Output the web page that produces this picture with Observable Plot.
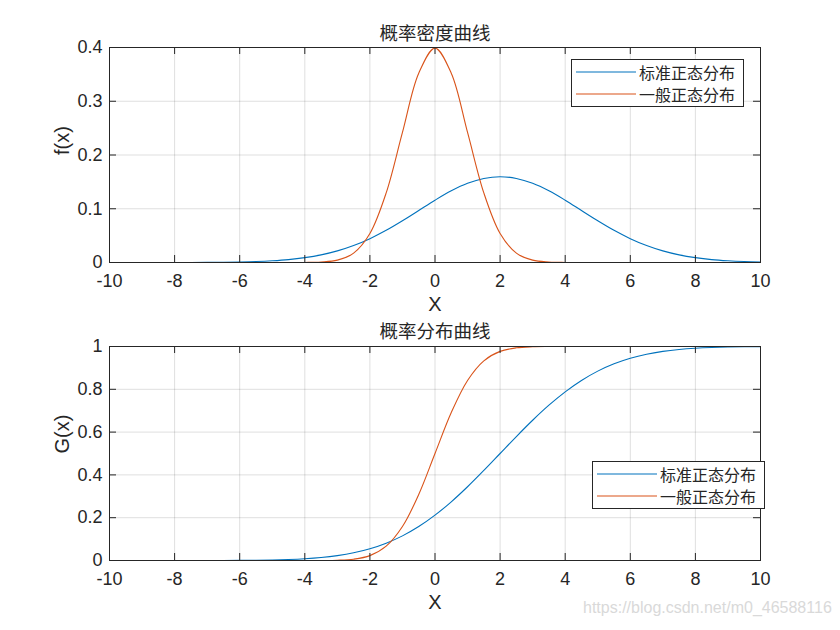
<!DOCTYPE html>
<html>
<head>
<meta charset="utf-8">
<script src="https://cdn.jsdelivr.net/npm/d3@7"></script>
<script src="https://cdn.jsdelivr.net/npm/@observablehq/plot@0.6"></script>
<style>
  body { margin: 0; background: #fff; }
  #wrap { position: relative; width: 840px; height: 630px; background: #fff; overflow: hidden; }
  #wrap > svg { display: block; }
  .legend { position: absolute; box-sizing: border-box; border: 1px solid #262626; background: #fff;
    width: 173px; height: 48px; font-family: "Noto Sans CJK SC", sans-serif; font-size: 16px; color: #262626; }
  .row { position: absolute; left: 4px; height: 18px; line-height: 18px; display: flex; align-items: center; white-space: nowrap; }
  .row span { line-height: 18px; display: inline-block; height: 18px; }
  .row svg { margin-right: 3px; }
  .wm { position: absolute; left: 583px; top: 599px; font-family: "Liberation Sans", Arial, sans-serif;
    font-size: 16px; color: #d9d9d9; }
</style>
</head>
<body>
<div id="wrap"></div>
<script>
// x grid (step 0.5)
const xs = [-10,-9.5,-9,-8.5,-8,-7.5,-7,-6.5,-6,-5.5,-5,-4.5,-4,-3.5,-3,-2.5,-2,-1.5,-1,-0.5,0,0.5,1,1.5,2,2.5,3,3.5,4,4.5,5,5.5,6,6.5,7,7.5,8,8.5,9,9.5,10];

// density curves
const pdfBlue = [0,0,0,0,0.0001,0.0001,0.0002,0.0005,0.0010,0.0018,0.0032,0.0054,0.0090,0.0142,0.0216,0.0316,0.0444,0.0599,0.0777,0.0968,0.1159,0.1333,0.1473,0.1564,0.1596,0.1564,0.1473,0.1333,0.1159,0.0968,0.0777,0.0599,0.0444,0.0316,0.0216,0.0142,0.0090,0.0054,0.0032,0.0018,0.0010];
const pdfOrange = [0,0,0,0,0,0,0,0,0,0,0,0,0.0001,0.0009,0.0044,0.0175,0.0540,0.1295,0.2420,0.3521,0.3989,0.3521,0.2420,0.1295,0.0540,0.0175,0.0044,0.0009,0.0001,0,0,0,0,0,0,0,0,0,0,0,0];

// distribution curves
const cdfBlue = [0,0,0,0,0,0.0001,0.0002,0.0003,0.0007,0.0013,0.0026,0.0047,0.0082,0.0139,0.0228,0.0359,0.0548,0.0808,0.1151,0.1587,0.2119,0.2743,0.3446,0.4207,0.5,0.5793,0.6554,0.7257,0.7881,0.8413,0.8849,0.9192,0.9452,0.9641,0.9772,0.9861,0.9918,0.9953,0.9974,0.9987,0.9993];
const cdfOrange = [0,0,0,0,0,0,0,0,0,0,0,0,0,0.0002,0.0013,0.0062,0.0228,0.0668,0.1587,0.3085,0.5,0.6915,0.8413,0.9332,0.9772,0.9938,0.9987,0.9998,1,1,1,1,1,1,1,1,1,1,1,1,1];

const seriesNames = ["标准正态分布", "一般正态分布"];
const colors = ["#0072BD", "#D95319"];
const xTicks = [-10,-8,-6,-4,-2,0,2,4,6,8,10];
const yTicksTop = [0,0.1,0.2,0.3,0.4];
const yTicksBottom = [0,0.2,0.4,0.6,0.8,1];

const axisColor = "#262626";
const fmt = d => String(d);

function makeTable(a, b) {
  const rows = [];
  xs.forEach((x, i) => rows.push({x, y: a[i], s: seriesNames[0]}));
  xs.forEach((x, i) => rows.push({x, y: b[i], s: seriesNames[1]}));
  return rows;
}

function panel({data, yDomain, yTicks, title, ylabel, marginTop, marginBottom, titleDy, xlabelDy}) {
  const height = 315;
  const innerH = height - marginTop - marginBottom;
  const innerW = 840 - 109 - 80;
  const tk = 7;
  return Plot.plot({
    width: 840,
    height,
    marginLeft: 109,
    marginRight: 80,
    marginTop,
    marginBottom,
    style: {fontFamily: "'Liberation Sans', Arial, sans-serif", fontSize: "18px", color: axisColor, background: "#fff"},
    x: {domain: [-10, 10], ticks: xTicks, tickSize: 0, tickPadding: 12, tickFormat: fmt, label: null},
    y: {domain: yDomain, ticks: yTicks, tickSize: 0, tickPadding: 7, tickFormat: fmt, label: null},
    color: {domain: seriesNames, range: colors},
    marks: [
      Plot.ruleX(xTicks, {stroke: axisColor, strokeOpacity: 0.15}),
      Plot.ruleY(yTicks, {stroke: axisColor, strokeOpacity: 0.15}),
      Plot.line(data, {x: "x", y: "y", stroke: "s", strokeWidth: 1.1, curve: "catmull-rom"}),
      Plot.tickX(xTicks, {x: d => d, stroke: axisColor, insetTop: innerH - tk}),
      Plot.tickX(xTicks, {x: d => d, stroke: axisColor, insetBottom: innerH - tk}),
      Plot.tickY(yTicks, {y: d => d, stroke: axisColor, insetRight: innerW - tk}),
      Plot.tickY(yTicks, {y: d => d, stroke: axisColor, insetLeft: innerW - tk}),
      Plot.frame({stroke: axisColor}),
      Plot.text([title], {frameAnchor: "top", lineAnchor: "middle", dy: titleDy, fontSize: 18.5, fill: axisColor, fontFamily: "'Noto Sans CJK SC', sans-serif"}),
      Plot.text(["X"], {frameAnchor: "bottom", lineAnchor: "middle", dy: xlabelDy, fontSize: 20, fill: axisColor}),
      Plot.text([ylabel], {frameAnchor: "left", lineAnchor: "middle", dx: -47, rotate: -90, fontSize: 20, fill: axisColor})
    ]
  });
}

const wrap = document.getElementById("wrap");
wrap.appendChild(panel({data: makeTable(pdfBlue, pdfOrange), yDomain: [0, 0.4], yTicks: yTicksTop,
  title: "概率密度曲线", ylabel: "f(x)", marginTop: 47, marginBottom: 53, titleDy: -13.5, xlabelDy: 42.5}));
wrap.appendChild(panel({data: makeTable(cdfBlue, cdfOrange), yDomain: [0, 1], yTicks: yTicksBottom,
  title: "概率分布曲线", ylabel: "G(x)", marginTop: 31, marginBottom: 70, titleDy: -14, xlabelDy: 42}));

function legend(left, top) {
  const d = document.createElement("div");
  d.className = "legend";
  d.style.left = left + "px";
  d.style.top = top + "px";
  seriesNames.forEach((n, i) => {
    const r = document.createElement("div");
    r.className = "row";
    r.style.top = (3 + i * 22) + "px";
    const svgNS = "http://www.w3.org/2000/svg";
    const s = document.createElementNS(svgNS, "svg");
    s.setAttribute("width", 60);
    s.setAttribute("height", 4);
    const l = document.createElementNS(svgNS, "line");
    l.setAttribute("x1", 0); l.setAttribute("x2", 60);
    l.setAttribute("y1", 2); l.setAttribute("y2", 2);
    l.setAttribute("stroke", colors[i]);
    l.setAttribute("stroke-width", 1.2);
    s.appendChild(l);
    const t = document.createElement("span");
    t.textContent = n;
    r.appendChild(s);
    r.appendChild(t);
    d.appendChild(r);
  });
  wrap.appendChild(d);
}
legend(571, 59);
legend(592, 461);

const wm = document.createElement("div");
wm.className = "wm";
wm.textContent = "https://blog.csdn.net/m0_46588116";
wrap.appendChild(wm);
</script>
</body>
</html>
